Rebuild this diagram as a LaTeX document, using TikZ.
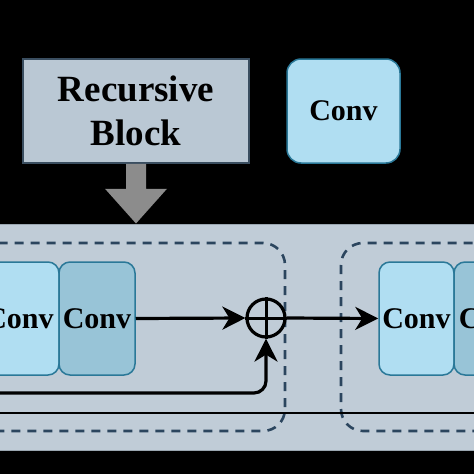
\documentclass[tikz,border=0pt]{standalone}
\usepackage{fontspec}
\setmainfont{Liberation Serif}
\usetikzlibrary{arrows.meta,calc}
\definecolor{panelfill}{HTML}{C0CCD7}
\definecolor{panelline}{HTML}{9AA6B0}
\definecolor{rbfill}{HTML}{BAC8D4}
\definecolor{rbline}{HTML}{3A4E60}
\definecolor{convlight}{HTML}{B0DEF2}
\definecolor{convdark}{HTML}{98C4D7}
\definecolor{convline}{HTML}{2A7898}
\definecolor{dashcol}{HTML}{2B455E}
\definecolor{arrowgray}{HTML}{8C8C8C}
\tikzset{
  convbox/.style={draw=convline, line width=1.5pt, rounded corners=11pt, minimum height=113pt,
    inner sep=0pt, font=\fontsize{30}{32}\selectfont\bfseries},
  lightconv/.style={convbox, fill=convlight},
  darkconv/.style={convbox, fill=convdark},
  dashbox/.style={draw=dashcol, line width=2.6pt, dash pattern=on 9pt off 7pt, rounded corners=22pt},
  flow/.style={line width=3.2pt, -{Stealth[length=23pt,width=23pt,inset=7pt]}},
}
\begin{document}
\begin{tikzpicture}[x=1pt,y=-1pt]
\useasboundingbox (0,0) rectangle (474,474);
\clip (0,0) rectangle (474,474);
\fill[black] (0,0) rectangle (474,474);
% top legend
\node[draw=rbline, line width=1.5pt, fill=rbfill, minimum width=226pt, minimum height=104pt,
  align=center, inner sep=0pt, font=\fontsize{37}{44}\selectfont\bfseries] (rb) at (136,111) {Recursive\\Block};
\node[lightconv, minimum width=113pt, minimum height=104pt, rounded corners=14pt] (legconv) at (343.5,111) {Conv};
% panel
\node[draw=panelline, line width=1pt, fill=panelfill, minimum width=490pt, minimum height=226pt, inner sep=0pt] (panel) at (237,337) {};
% gray arrow
\fill[arrowgray] ($(rb.south)+(-10,0)$) -- ($(rb.south)+(10,0)$) -- ($(rb.south)+(10,25)$) -- ($(rb.south)+(31,25)$)
  -- (panel.north -| rb.south) -- ($(rb.south)+(-31,25)$) -- ($(rb.south)+(-10,25)$) -- cycle;
% dashed groups
\draw[dashbox] (-40,243) rectangle (285,431);
\draw[dashbox] (341,243) rectangle (540,431);
% conv boxes
\node[lightconv, minimum width=79pt] (c1) at (19.5,318.5) {Conv};
\node[darkconv, minimum width=76pt] (c2) at (97,318.5) {Conv};
\node[lightconv, minimum width=75pt] (c3) at (416.5,318.5) {Conv};
\node[darkconv, minimum width=78pt] (c4) at (493,318.5) {Conv};
% adder
\node[draw, line width=3.2pt, circle, minimum size=38pt, inner sep=0pt] (plus) at (266,318) {};
\draw[line width=3pt] (plus.north) -- (plus.south) (plus.west) -- (plus.east);
% connectors
\draw[flow] (c2.east) -- (plus.west);
\draw[flow] (plus.east) -- (c3.west);
\coordinate (skipstart) at (-10,393);
\draw[flow, rounded corners=12pt] (skipstart) -| (plus.south);
\coordinate (longa) at (-10,413);
\coordinate (longb) at (484,413);
\draw[line width=2.2pt] (longa) -- (longb);
\end{tikzpicture}
\end{document}
